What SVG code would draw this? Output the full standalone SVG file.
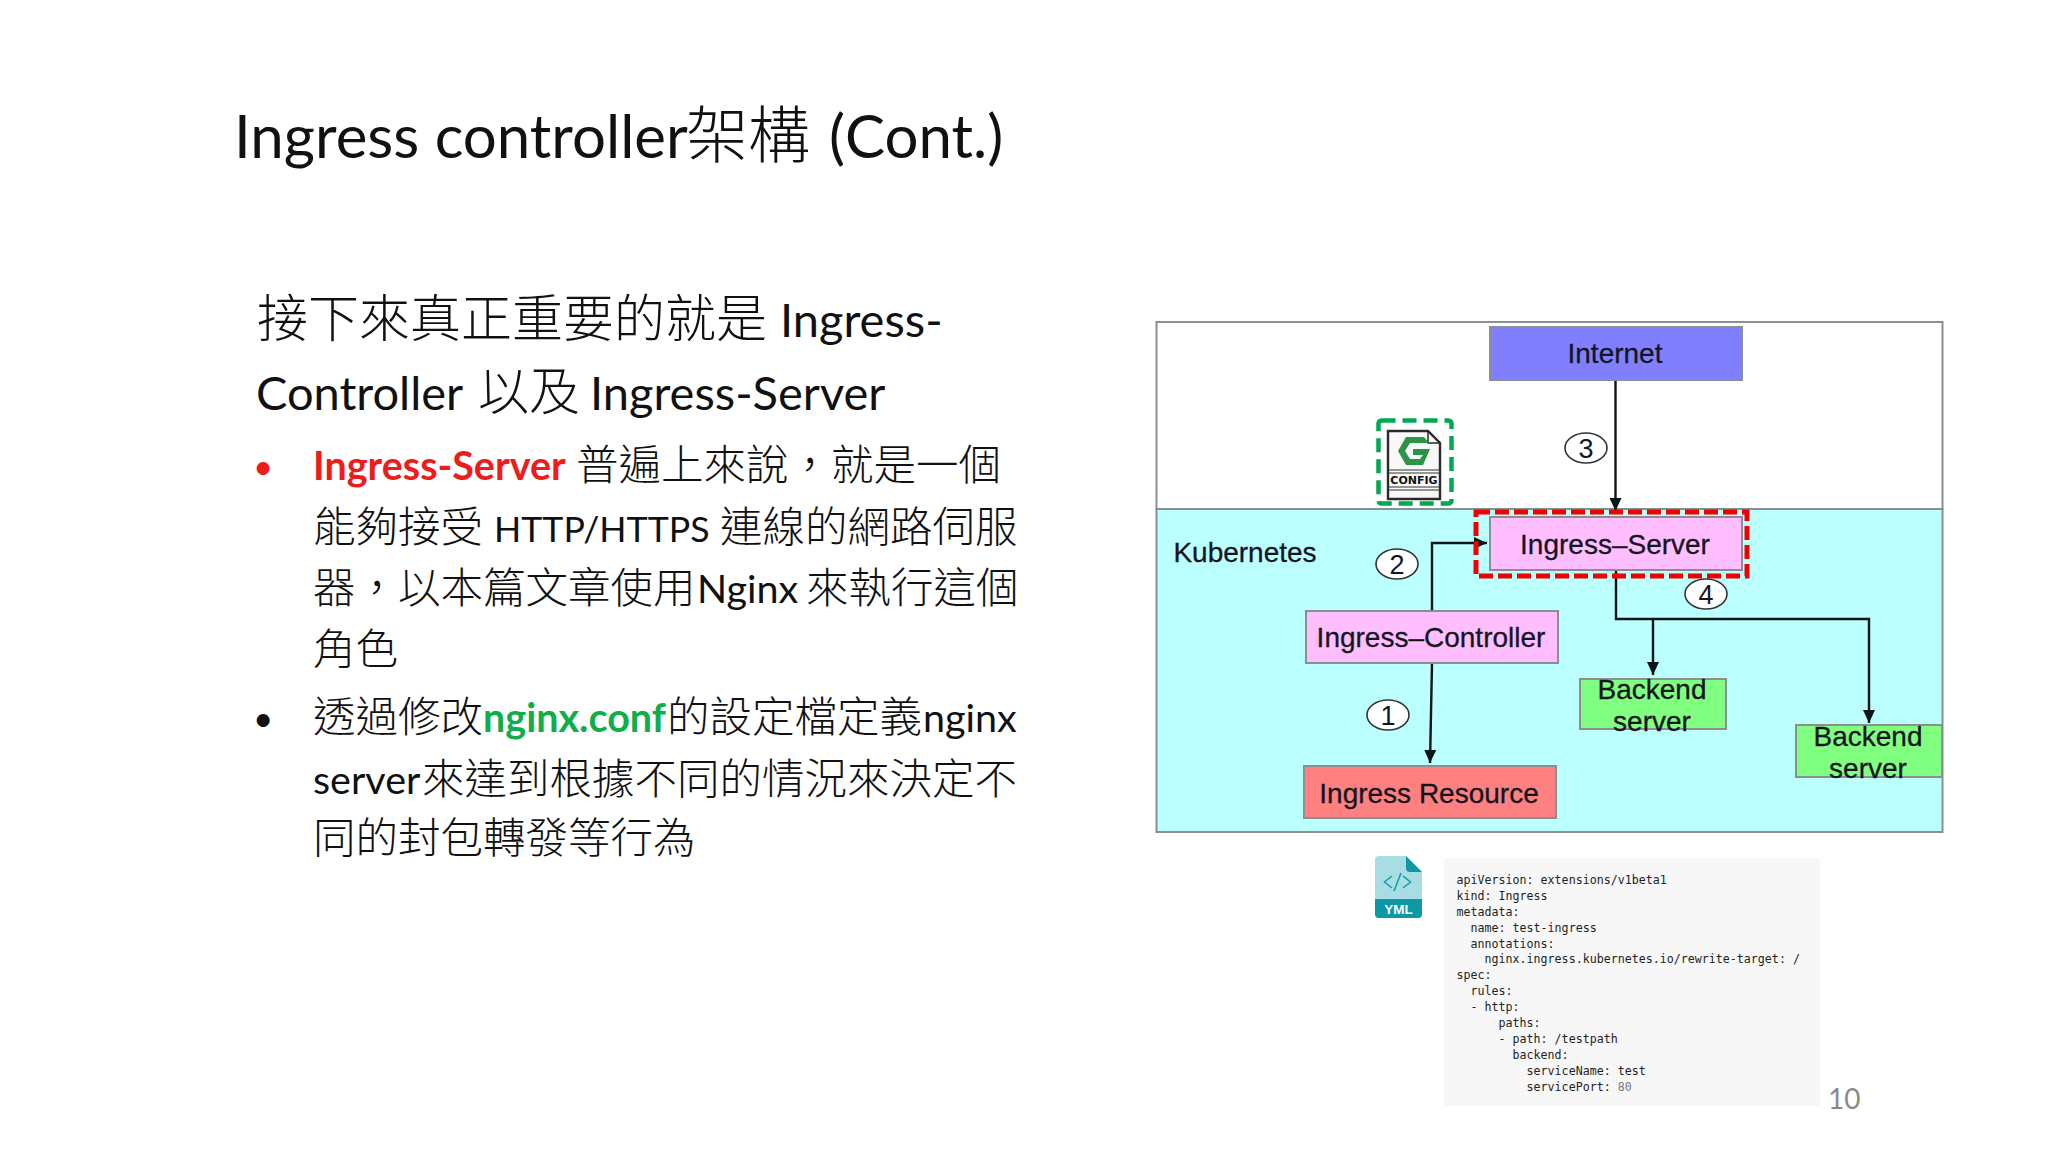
<svg xmlns="http://www.w3.org/2000/svg" width="2048" height="1152" viewBox="0 0 2048 1152">
<defs>
<style>
.t{font-family:"Noto Sans CJK TC",sans-serif;fill:#111;font-weight:300}
.l{font-family:"Lato",sans-serif;font-weight:400}
.b{font-size:42.500px}
.lb{font-size:39.500px}
.lh{font-size:47px}
.d{font-family:"Liberation Sans",sans-serif;font-size:28px;fill:#15151f;text-anchor:middle;stroke:#15151f;stroke-width:.3}
.n{stroke:#8a8f90;stroke-width:2}
.c{fill:none;stroke:#0c1418;stroke-width:2.400}
.o{fill:#fff;stroke:#333;stroke-width:1.600}
.code{font-family:"DejaVu Sans Mono",monospace;font-size:11.650px;fill:#222;white-space:pre}
</style>
<marker id="a" markerUnits="userSpaceOnUse" markerWidth="14" markerHeight="14" refX="13" refY="7" orient="auto"><path d="M0 1L13 7L0 13z" fill="#0c1418"/></marker>
</defs>
<rect width="2048" height="1152" fill="#fff"/>
<g id="slide-text">
<text class="t" x="234" y="158" font-size="62" xml:lang="zh-TW"><tspan class="l" font-size="60">Ingress controller</tspan><tspan x="686">架構</tspan><tspan class="l" x="829" font-size="60">(Cont.)</tspan></text>
<text class="t" x="257" y="337" font-size="51">接下來真正重要的就是<tspan class="l lh" x="780">Ingress-</tspan></text>
<text class="t" x="256" y="410" font-size="51"><tspan class="l lh">Controller</tspan><tspan x="478">以及</tspan><tspan class="l lh" x="590">Ingress-Server</tspan></text>
<text class="l" x="253" y="479" font-size="35" fill="#ee1c1c">•</text>
<text class="t b" x="313" y="480"><tspan class="l lb" fill="#ee1c1c" style="font-weight:700">Ingress-Server</tspan><tspan x="576">普遍上來說，就是一個</tspan></text>
<text class="t b" x="313" y="542">能夠接受<tspan class="l" x="494" font-size="35.700">HTTP/HTTPS</tspan><tspan x="720">連線的網路伺服</tspan></text>
<text class="t b" x="313" y="603">器，以本篇文章使用<tspan class="l lb" x="697">Nginx</tspan><tspan x="806">來執行這個</tspan></text>
<text class="t b" x="313" y="664">角色</text>
<text class="l" x="253" y="731" font-size="35" fill="#111">•</text>
<text class="t b" x="313" y="732">透過修改<tspan class="l lb" x="483" fill="#0fae4b" style="font-weight:700">nginx.conf</tspan><tspan x="667">的設定檔定義</tspan><tspan class="l lb" x="923">nginx</tspan></text>
<text class="t b" x="313" y="794"><tspan class="l lb">server</tspan><tspan x="422">來達到根據不同的情況來決定不</tspan></text>
<text class="t b" x="313" y="853">同的封包轉發等行為</text>
<text class="l" x="1828" y="1109" font-size="28" fill="#8a8a8a">10</text>
</g>
<g id="frame">
<rect x="1156.500" y="322" width="786" height="187" fill="#fff" class="n"/>
<rect x="1156.500" y="509" width="786" height="323" fill="#bcffff" class="n"/>
<text class="d" x="1245" y="562">Kubernetes</text>
</g>
<g id="connectors">
<path class="c" d="M1615.500 380V511" marker-end="url(#a)"/>
<path class="c" d="M1432 611V543H1487" marker-end="url(#a)"/>
<path class="c" d="M1432 663L1430 763" marker-end="url(#a)"/>
<path class="c" d="M1616 570V619H1869V723" marker-end="url(#a)"/>
<path class="c" d="M1653 619V675" marker-end="url(#a)"/>
</g>
<g id="internet"><rect class="n" x="1490" y="327" width="252" height="53" fill="#8080ff"/><text class="d" x="1615" y="363">Internet</text></g>
<g id="ingress-server"><rect class="n" x="1490" y="517" width="252" height="53" fill="#ffbfff"/><text class="d" x="1615" y="554">Ingress–Server</text>
<rect x="1476" y="512" width="271" height="64" fill="none" stroke="#f00000" stroke-width="5" stroke-dasharray="14 5"/></g>
<g id="ingress-controller"><rect class="n" x="1306" y="611" width="252" height="52" fill="#ffbfff"/><text class="d" x="1431" y="647">Ingress–Controller</text></g>
<g id="ingress-resource"><rect class="n" x="1304" y="766" width="252" height="52" fill="#ff8080"/><text class="d" x="1429" y="803">Ingress Resource</text></g>
<g id="backend-1"><rect class="n" x="1580" y="679" width="146" height="50" fill="#80ff80"/><text class="d" x="1652" y="699">Backend</text><text class="d" x="1652" y="731">server</text></g>
<g id="backend-2"><rect class="n" x="1796" y="725" width="146" height="52" fill="#80ff80"/><text class="d" x="1868" y="746">Backend</text><text class="d" x="1868" y="778">server</text></g>
<g id="step-1"><ellipse class="o" cx="1388" cy="715" rx="21" ry="15"/><text class="d" x="1388" y="725" style="font-size:27px;stroke:none">1</text></g>
<g id="step-2"><ellipse class="o" cx="1397" cy="564" rx="21" ry="15"/><text class="d" x="1397" y="574" style="font-size:27px;stroke:none">2</text></g>
<g id="step-3"><ellipse class="o" cx="1586" cy="448" rx="21" ry="15"/><text class="d" x="1586" y="458" style="font-size:27px;stroke:none">3</text></g>
<g id="step-4"><ellipse class="o" cx="1706" cy="594" rx="21" ry="15"/><text class="d" x="1706" y="604" style="font-size:27px;stroke:none">4</text></g>
<g id="config-icon">
<rect x="1378.500" y="420.500" width="73" height="83" rx="3" fill="none" stroke="#00a84f" stroke-width="4.500" stroke-dasharray="14 7"/>
<path d="M1388 431H1428L1440 443V499H1388Z" fill="#f8f8f8" stroke="#2a2a2a" stroke-width="2.400"/>
<path d="M1428 431V443H1440" fill="none" stroke="#2a2a2a" stroke-width="1.500"/>
<path d="M1388 470H1440M1388 473H1440M1388 487H1440M1388 490H1440" stroke="#333" stroke-width="1.200"/>
<path d="M1406 437H1424L1429 443H1410L1405 451L1410 459H1420L1423 455H1413V449H1430L1423 465H1406L1398 451Z" fill="#2c9447"/>
<text x="1414" y="484" font-size="11" font-weight="700" fill="#111" text-anchor="middle" style="font-family:'DejaVu Sans',sans-serif">CONFIG</text>
</g>
<g id="yml-icon">
<path d="M1379 856H1406L1422 872V914Q1422 918 1418 918H1379Q1375 918 1375 914V860Q1375 856 1379 856Z" fill="#a8dde3"/>
<path d="M1406 856L1422 872H1410Q1406 872 1406 868Z" fill="#0e98a6"/>
<path d="M1375 899H1422V914Q1422 918 1418 918H1379Q1375 918 1375 914Z" fill="#0e98a6"/>
<path d="M1392 876L1384.500 882L1392 888M1403 876L1410.500 882L1403 888M1401 873L1394 891" fill="none" stroke="#12a0ad" stroke-width="1.600"/>
<text x="1398.500" y="914" font-size="13.500" font-weight="700" fill="#fff" text-anchor="middle" style="font-family:'Liberation Sans',sans-serif">YML</text>
</g>
<g id="code">
<rect x="1444" y="858" width="376" height="248" rx="3" fill="#f7f7f8"/>
<text class="code" x="1456.500" y="883.500">apiVersion: extensions/v1beta1</text>
<text class="code" x="1456.500" y="899.500">kind: Ingress</text>
<text class="code" x="1456.500" y="915.500">metadata:</text>
<text class="code" x="1456.500" y="931.500">  name: test-ingress</text>
<text class="code" x="1456.500" y="947.500">  annotations:</text>
<text class="code" x="1456.500" y="963">    nginx.ingress.kubernetes.io/rewrite-target: /</text>
<text class="code" x="1456.500" y="979">spec:</text>
<text class="code" x="1456.500" y="995">  rules:</text>
<text class="code" x="1456.500" y="1011">  - http:</text>
<text class="code" x="1456.500" y="1027">      paths:</text>
<text class="code" x="1456.500" y="1042.500">      - path: /testpath</text>
<text class="code" x="1456.500" y="1058.500">        backend:</text>
<text class="code" x="1456.500" y="1074.500">          serviceName: test</text>
<text class="code" x="1456.500" y="1090.500">          servicePort: <tspan fill="#777">80</tspan></text>
</g>
</svg>
